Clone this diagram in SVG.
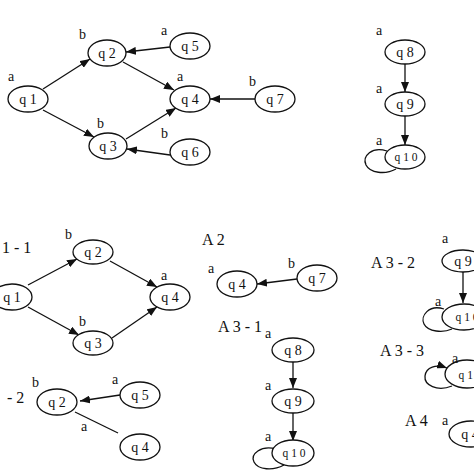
<svg xmlns="http://www.w3.org/2000/svg" width="474" height="474" viewBox="0 0 474 474">
<defs>
<marker id="ah" markerUnits="userSpaceOnUse" markerWidth="10" markerHeight="8" refX="10" refY="4" orient="auto"><path d="M0,0 L10,4 L0,8 z" fill="#111"/></marker>
<style>
.n ellipse{fill:#fff;stroke:#111;stroke-width:1.3}
text{font-family:"Liberation Serif","Times New Roman",serif;fill:#111}
.t{font-size:14px;text-anchor:middle}
.s{font-size:11.5px;text-anchor:middle}
.l{font-size:14px}
.h{font-size:16px}
.e line,.e path{stroke:#111;stroke-width:1.3;fill:none}
</style>
</defs>
<rect width="474" height="474" fill="#fff"/>
<g class="e" id="connectors">
<line x1="43" y1="89" x2="90" y2="59" marker-end="url(#ah)"/>
<line x1="123" y1="62" x2="174" y2="90" marker-end="url(#ah)"/>
<line x1="170" y1="47" x2="126" y2="52" marker-end="url(#ah)"/>
<line x1="43" y1="110" x2="94" y2="137" marker-end="url(#ah)"/>
<line x1="126" y1="139" x2="176" y2="108" marker-end="url(#ah)"/>
<line x1="255" y1="99" x2="210" y2="99" marker-end="url(#ah)"/>
<line x1="170" y1="155" x2="127" y2="149" marker-end="url(#ah)"/>
<line x1="405" y1="64" x2="405" y2="92" marker-end="url(#ah)"/>
<line x1="405" y1="116" x2="405" y2="145" marker-end="url(#ah)"/>
<path d="M387,151 C372,146 362,156 366,165 C370,173 385,175 396,169"/>
<line x1="28" y1="285" x2="77" y2="259" marker-end="url(#ah)"/>
<line x1="110" y1="261" x2="157" y2="287" marker-end="url(#ah)"/>
<line x1="28" y1="307" x2="79" y2="335" marker-end="url(#ah)"/>
<line x1="112" y1="338" x2="157" y2="307" marker-end="url(#ah)"/>
<line x1="297" y1="279" x2="257" y2="284" marker-end="url(#ah)"/>
<line x1="463" y1="272" x2="463" y2="303" marker-end="url(#ah)"/>
<path d="M444,309 C429,304 420,316 424,324 C428,332 443,333 452,329"/>
<path d="M452,386 C437,392 424,385 425,376 C426,367 436,364 447,368" marker-end="url(#ah)"/>
<line x1="293" y1="362" x2="293" y2="388" marker-end="url(#ah)"/>
<line x1="293" y1="413" x2="293" y2="441" marker-end="url(#ah)"/>
<path d="M276,449 C261,445 250,454 254,462 C258,470 273,471 284,465"/>
<line x1="120" y1="395" x2="80" y2="401" marker-end="url(#ah)"/>
<line x1="75" y1="412" x2="118" y2="433"/>
</g>
<g class="n" id="g1-q1"><ellipse cx="28" cy="99" rx="20" ry="13"/><text class="t" x="28" y="104">q 1</text></g>
<g class="n" id="g1-q2"><ellipse cx="107" cy="53" rx="19" ry="13"/><text class="t" x="107" y="58">q 2</text></g>
<g class="n" id="g1-q5"><ellipse cx="190" cy="46" rx="20" ry="13"/><text class="t" x="190" y="51">q 5</text></g>
<g class="n" id="g1-q4"><ellipse cx="190" cy="99" rx="20" ry="13"/><text class="t" x="190" y="104">q 4</text></g>
<g class="n" id="g1-q7"><ellipse cx="275" cy="99" rx="20" ry="13"/><text class="t" x="275" y="104">q 7</text></g>
<g class="n" id="g1-q3"><ellipse cx="108" cy="146" rx="19" ry="13"/><text class="t" x="108" y="151">q 3</text></g>
<g class="n" id="g1-q6"><ellipse cx="190" cy="152" rx="20" ry="13"/><text class="t" x="190" y="157">q 6</text></g>
<g id="g1-labels">
<text class="l" x="8" y="81">a</text>
<text class="l" x="79" y="39">b</text>
<text class="l" x="161" y="35">a</text>
<text class="l" x="177" y="81">a</text>
<text class="l" x="249" y="86">b</text>
<text class="l" x="97" y="128">b</text>
<text class="l" x="161" y="138">b</text>
</g>
<g class="n" id="g2-q8"><ellipse cx="405" cy="52" rx="20" ry="12"/><text class="t" x="405" y="57">q 8</text></g>
<g class="n" id="g2-q9"><ellipse cx="405" cy="104" rx="20" ry="12"/><text class="t" x="405" y="109">q 9</text></g>
<g class="n" id="g2-q10"><ellipse cx="405" cy="157" rx="20" ry="12"/><text class="s" x="406" y="161">q 1 0</text></g>
<g id="g2-labels">
<text class="l" x="376" y="35">a</text>
<text class="l" x="376" y="93">a</text>
<text class="l" x="376" y="145">a</text>
</g>
<g id="a11">
<text class="h" x="2" y="253">1 - 1</text>
<g class="n" id="a11-q1"><ellipse cx="12" cy="297" rx="20" ry="13"/><text class="t" x="12" y="302">q 1</text></g>
<g class="n" id="a11-q2"><ellipse cx="93" cy="252" rx="20" ry="12"/><text class="t" x="93" y="257">q 2</text></g>
<g class="n" id="a11-q4"><ellipse cx="170" cy="297" rx="20" ry="13"/><text class="t" x="170" y="302">q 4</text></g>
<g class="n" id="a11-q3"><ellipse cx="93" cy="343" rx="20" ry="12"/><text class="t" x="93" y="348">q 3</text></g>
<text class="l" x="65" y="239">b</text>
<text class="l" x="161" y="280">a</text>
<text class="l" x="79" y="326">b</text>
</g>
<g id="a2">
<text class="h" x="202" y="245">A 2</text>
<g class="n" id="a2-q4"><ellipse cx="237" cy="284" rx="20" ry="13"/><text class="t" x="237" y="289">q 4</text></g>
<g class="n" id="a2-q7"><ellipse cx="317" cy="278" rx="20" ry="13"/><text class="t" x="317" y="283">q 7</text></g>
<text class="l" x="208" y="273">a</text>
<text class="l" x="288" y="268">b</text>
</g>
<g id="a32">
<text class="h" x="371" y="268">A 3 - 2</text>
<g class="n" id="a32-q9"><ellipse cx="463" cy="261" rx="21" ry="11"/><text class="t" x="463" y="266">q 9</text></g>
<g class="n" id="a32-q10"><ellipse cx="464" cy="317" rx="22" ry="13"/><text class="s" x="467" y="321">q 1 0</text></g>
<text class="l" x="442" y="243">a</text>
<text class="l" x="435" y="306">a</text>
</g>
<g id="a33">
<text class="h" x="380" y="356">A 3 - 3</text>
<g class="n" id="a33-q10"><ellipse cx="467" cy="374" rx="22" ry="14"/><text class="s" x="470" y="379">q 1 0</text></g>
<text class="l" x="452" y="363">a</text>
</g>
<g id="a4">
<text class="h" x="405" y="426">A 4</text>
<text class="l" x="442" y="425">a</text>
<g class="n" id="a4-q"><ellipse cx="471" cy="434" rx="22" ry="13"/><text class="t" x="470" y="439">q 4</text></g>
</g>
<g id="a31">
<text class="h" x="218" y="332">A 3 - 1</text>
<text class="l" x="265" y="338">a</text>
<g class="n" id="a31-q8"><ellipse cx="293" cy="350" rx="21" ry="12"/><text class="t" x="293" y="355">q 8</text></g>
<g class="n" id="a31-q9"><ellipse cx="293" cy="401" rx="21" ry="12"/><text class="t" x="293" y="406">q 9</text></g>
<g class="n" id="a31-q10"><ellipse cx="293" cy="453" rx="21" ry="13"/><text class="s" x="294" y="457">q 1 0</text></g>
<text class="l" x="265" y="390">a</text>
<text class="l" x="265" y="441">a</text>
</g>
<g id="a12">
<text class="h" x="7" y="403">- 2</text>
<g class="n" id="a12-q2"><ellipse cx="57" cy="402" rx="20" ry="13"/><text class="t" x="57" y="407">q 2</text></g>
<g class="n" id="a12-q5"><ellipse cx="140" cy="395" rx="20" ry="13"/><text class="t" x="140" y="400">q 5</text></g>
<g class="n" id="a12-q4"><ellipse cx="140" cy="447" rx="20" ry="13"/><text class="t" x="140" y="452">q 4</text></g>
<text class="l" x="32" y="387">b</text>
<text class="l" x="112" y="384">a</text>
<text class="l" x="81" y="431">a</text>
</g>
</svg>
